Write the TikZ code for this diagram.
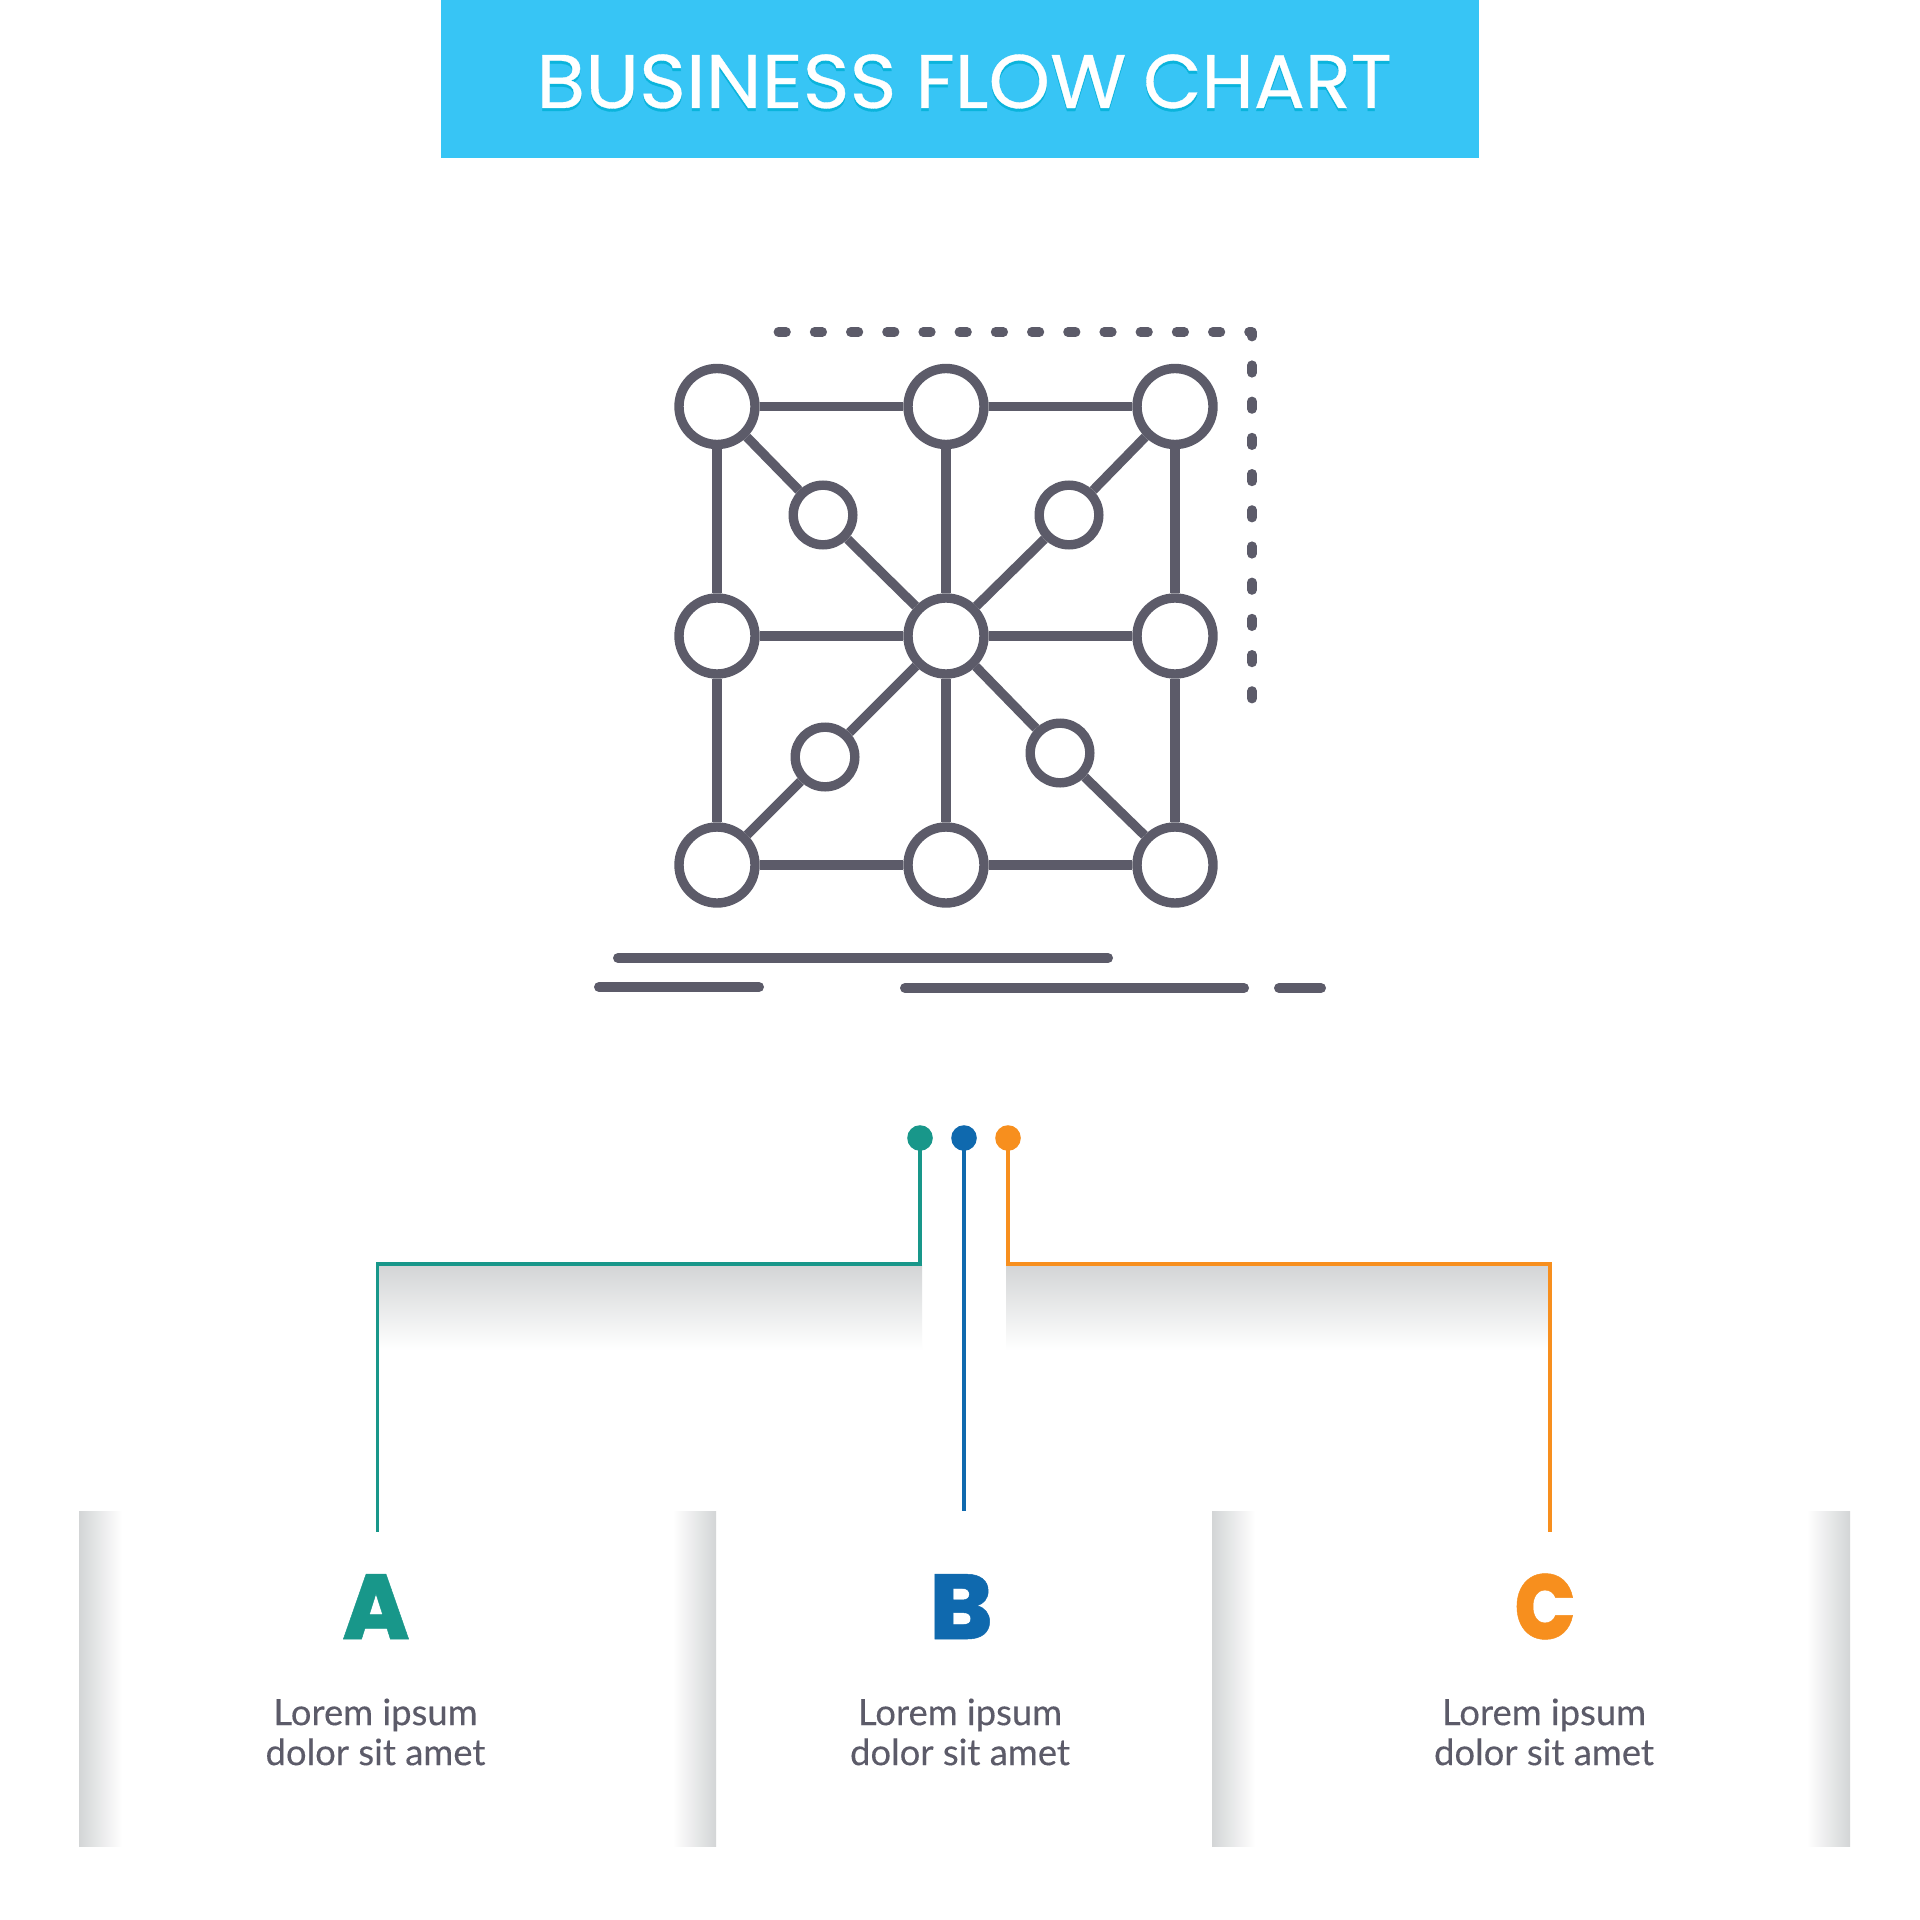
\documentclass[tikz,border=0pt]{standalone}
\usepackage{fontspec}
\setmainfont{Poppins}
\newfontfamily\titlefont[WordSpace=0.8,FakeBold=0.45]{Poppins}
\newfontfamily\heavyfont[FakeBold=0.5]{Poppins ExtraBold}
\newfontfamily\latofont[FakeBold=0.25]{Lato}
\definecolor{ink}{HTML}{5C5B69}
\definecolor{sky}{HTML}{37C5F5}
\definecolor{skyshade}{HTML}{0AB4DC}
\definecolor{teal}{HTML}{18978A}
\definecolor{navy}{HTML}{0F69AE}
\definecolor{amber}{HTML}{F78F1E}
\definecolor{shade}{HTML}{D3D5D6}
\newcommand{\headtext}{\scalebox{1.02}[1]{BUSINESS}\hspace{1pt} FLOW \scalebox{0.966}[1]{CHART}}
\tikzset{
 x=0.5pt,y=-0.5pt,
 big/.style={circle,draw=ink,fill=white,line width=4.7pt,minimum size=38pt,inner sep=0pt},
 small/.style={circle,draw=ink,fill=white,line width=4.7pt,minimum size=29.8pt,inner sep=0pt},
 link/.style={draw=ink,line width=4.7pt},
 bar/.style={draw=ink,line width=5pt,line cap=round},
 dots/.style={draw=ink,line width=4.8pt,line cap=round,line join=round,dash pattern=on 3.8pt off 14.3pt},
 pin/.style={circle,inner sep=0pt,minimum size=12.8pt},
 title/.style={font=\titlefont\fontsize{38}{38}\selectfont,anchor=base,xscale=1.03},
 letter/.style={font=\heavyfont\fontsize{46}{46}\selectfont,anchor=base},
 lorem/.style={font=\latofont\fontsize{18.2}{20}\selectfont,text=ink,align=center,anchor=center},
}
\begin{document}
\begin{tikzpicture}
\useasboundingbox (0,0) rectangle (1920,1920);
\fill[white] (0,0) rectangle (1920,1920);
% banner
\fill[sky] (441,0) rectangle (1479,158);
\node[title,text=skyshade] at (964,111) {\headtext};
\node[title,text=white] (head) at (964,108) {\headtext};
% shaded bands
\shade[top color=shade,bottom color=white] (377,1265) rectangle (922,1350);
\shade[top color=shade,bottom color=white] (1006,1265) rectangle (1550,1350);
\shade[left color=shade,right color=white] (79,1511) rectangle (122,1846);
\shade[left color=white,right color=shade] (673,1511) rectangle (716,1846);
\shade[left color=shade,right color=white] (1212,1511) rectangle (1255,1846);
\shade[left color=white,right color=shade] (1807,1511) rectangle (1850,1846);
% grid nodes
\foreach \n/\px/\py in {a/717/406.5,b/946/406.5,c/1175/406.5,d/717/636,e/946/636,f/1175/636,g/717/865,h/946/865,i/1175/865}
  \node[big] (\n) at (\px,\py) {};
\node[small] (p) at (823,515) {};
\node[small] (q) at (1069,515) {};
\node[small] (r) at (825,757) {};
\node[small] (s) at (1060,753) {};
\foreach \u/\v in {a/b,b/c,d/e,e/f,g/h,h/i,a/d,d/g,b/e,e/h,c/f,f/i,a/p,p/e,c/q,q/e,g/r,r/e,i/s,s/e}
  \draw[link] (\u) -- (\v);
% dotted frame
\coordinate (fa) at (778.4,332);
\coordinate (fb) at (1252,332);
\coordinate (fc) at (1252,700);
\draw[dots] (fa) -- (fb) -- (fc);
% ground lines
\coordinate (l1a) at (618,958); \coordinate (l1b) at (1108,958);
\coordinate (l2a) at (599,987); \coordinate (l2b) at (759,987);
\coordinate (l3a) at (905,988); \coordinate (l3b) at (1244,988);
\coordinate (l4a) at (1279,988); \coordinate (l4b) at (1321,988);
\draw[bar] (l1a) -- (l1b);
\draw[bar] (l2a) -- (l2b);
\draw[bar] (l3a) -- (l3b);
\draw[bar] (l4a) -- (l4b);
% pins and leaders
\node[pin,fill=teal] (pa) at (920,1138) {};
\node[pin,fill=navy] (pb) at (964,1138) {};
\node[pin,fill=amber] (pc) at (1008,1138) {};
\coordinate (ea) at (377.5,1532);
\coordinate (eb) at (964,1511);
\coordinate (ec) at (1550,1532);
\draw[teal,line width=1.6pt] (pa.center) -- (920,1264) -- (377.5,1264) -- (ea);
\draw[navy,line width=1.6pt] (pb.center) -- (eb);
\draw[amber,line width=1.6pt] (pc.center) -- (1008,1264) -- (1550,1264) -- (ec);
% letters
\node[letter,text=teal,xscale=0.96] (la) at (376,1639) {A};
\node[letter,text=navy,xscale=1.02] (lb) at (961,1639) {B};
\node[letter,text=amber,xscale=0.88] (lc) at (1545,1639) {C};
% captions
\node[lorem] (ta) at (375.5,1732) {Lorem ipsum\\dolor sit amet};
\node[lorem] (tb) at (960,1732) {Lorem ipsum\\dolor sit amet};
\node[lorem] (tc) at (1544,1732) {Lorem ipsum\\dolor sit amet};
\end{tikzpicture}
\end{document}
